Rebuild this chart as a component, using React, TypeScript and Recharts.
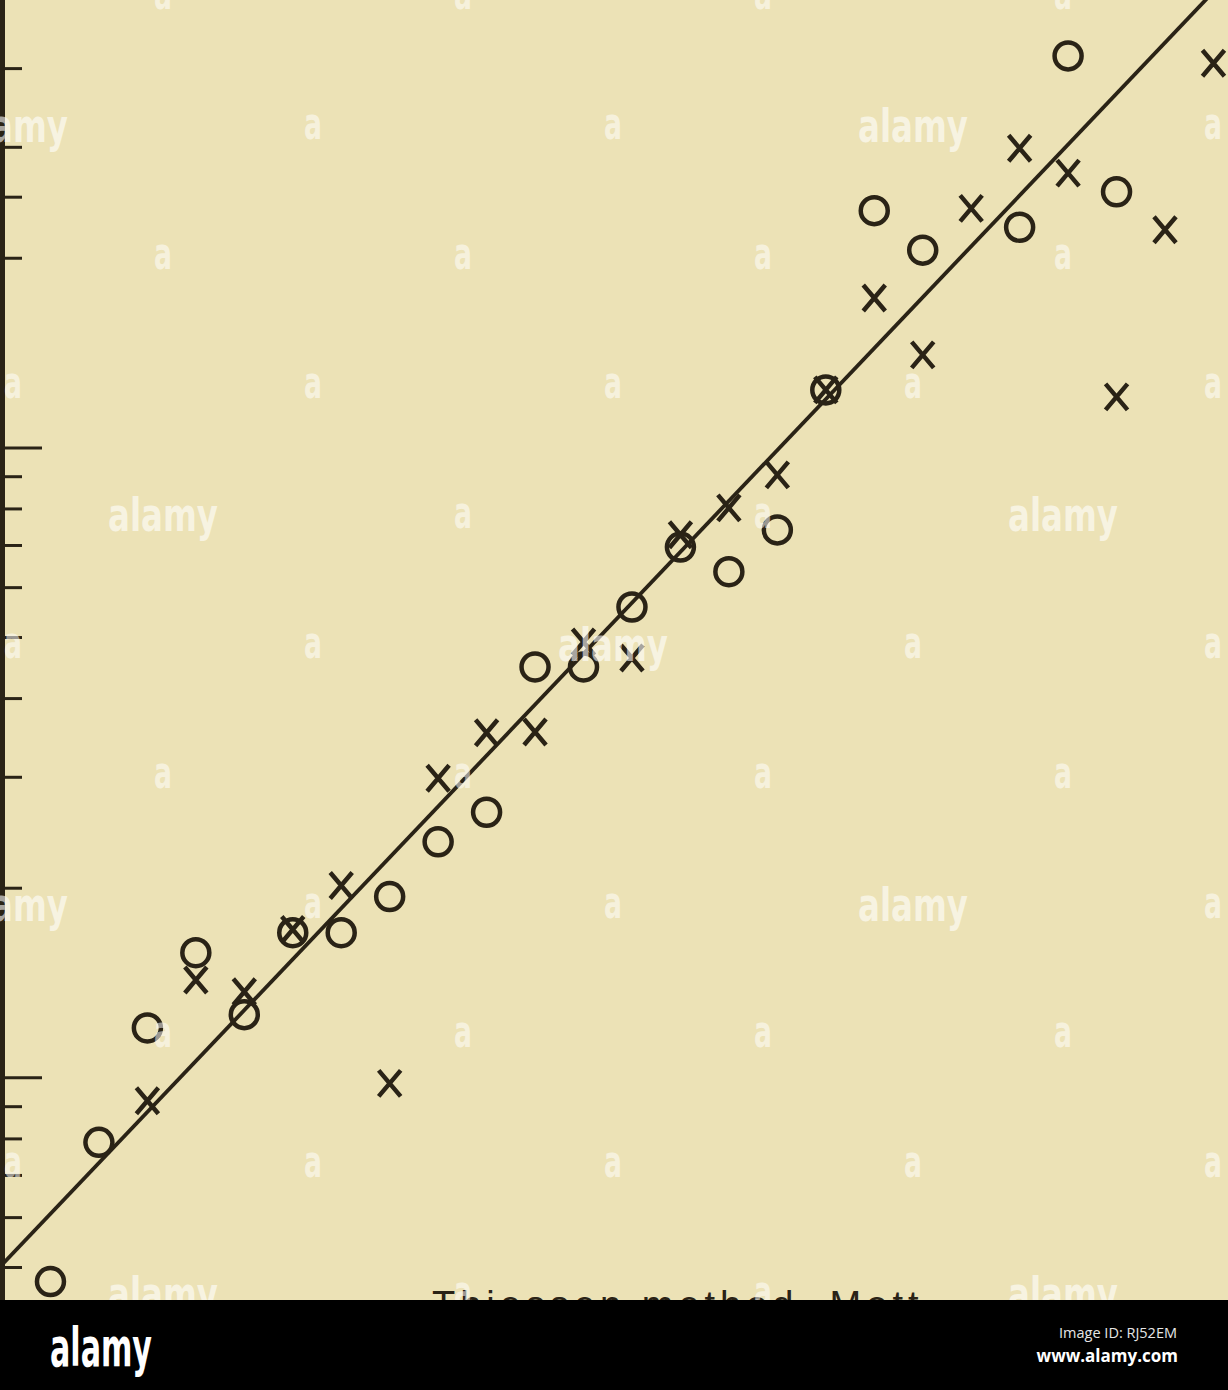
import React from "react";
import { ScatterChart, Scatter, XAxis, YAxis } from "recharts";

const INK = "#2a2316";
const PAPER = "#ECE2B6";

// x = station/column index, y = value on log scale
const circleX = [1, 2, 3, 4, 5, 6, 7, 8, 9, 10, 11, 12, 13, 14, 15, 16, 17, 18, 19, 21, 22, 23];
const circleY = [4.75, 7.9, 12.0, 15.8, 12.6, 17.0, 17.0, 19.4, 23.7, 26.4, 44.9, 44.9, 55.9, 69.6, 63.6, 74.1, 123.6, 238, 206, 224, 419, 255];

const crossX = [3, 4, 5, 6, 7, 8, 9, 10, 11, 12, 13, 14, 15, 16, 17, 18, 19, 20, 21, 22, 23, 24, 25];
const crossY = [9.2, 14.3, 13.7, 17.2, 20.2, 9.8, 29.9, 35.3, 35.4, 49.2, 46.4, 72.8, 80.3, 90.6, 123.6, 173, 140.5, 240, 299, 273, 120.5, 222, 408];

const lineX = [0, 24.9];
const lineY = [5.05, 520];

const yTicks = [5, 6, 7, 8, 9, 10, 20, 30, 40, 50, 60, 70, 80, 90, 100, 200, 250, 300, 400];
const majorTicks = [10, 100];

const circles = circleX.map((k, i) => ({ k, v: circleY[i] }));
const crosses = crossX.map((k, i) => ({ k, v: crossY[i] }));
const fitLine = lineX.map((k, i) => ({ k, v: lineY[i] }));

const AxisTick = (props: any) => {
  const { x, y, payload } = props;
  const len = majorTicks.includes(payload.value) ? 40 : 20;
  return <line x1={x} y1={y} x2={x + len} y2={y} stroke={INK} strokeWidth={3} />;
};

const CircleMark = (p: any) => (
  <circle cx={p.cx} cy={p.cy} r={13.5} fill="none" stroke={INK} strokeWidth={4.5} />
);

const CrossMark = (p: any) => (
  <path
    d={`M${p.cx - 11},${p.cy - 13} L${p.cx + 11},${p.cy + 13} M${p.cx + 11},${p.cy - 13} L${p.cx - 11},${p.cy + 13}`}
    stroke={INK}
    strokeWidth={4.5}
    fill="none"
  />
);

const NoMark = () => <g />;

const wordCells = [
  [0, 1], [6, 1], [1, 4], [7, 4], [4, 5], [0, 7], [6, 7], [1, 10], [7, 10],
];

function Watermarks() {
  const items: React.ReactNode[] = [];
  const wm = "'Liberation Sans Narrow', 'DejaVu Sans Condensed', 'Roboto', sans-serif";
  for (let j = 0; j <= 10; j++) {
    for (let i = 0; i <= 8; i++) {
      if ((i + j) % 2 === 0) continue;
      const cx = 13 + 150 * i;
      const cy = 129.8 * j - 2;
      const isWord = wordCells.some(([a, b]) => a === i && b === j);
      if (isWord) {
        items.push(
          <text key={`w${i}-${j}`} x={cx - 55} y={cy + 14} fontFamily={wm} fontWeight="bold" fontSize={46}
            textLength={110} lengthAdjust="spacingAndGlyphs" fill="#ffffff" fillOpacity={0.6}>alamy</text>
        );
      } else {
        items.push(
          <text key={`a${i}-${j}`} x={cx - 9} y={cy + 11} fontFamily={wm} fontWeight="bold" fontSize={44}
            textLength={18} lengthAdjust="spacingAndGlyphs" fill="#ffffff" fillOpacity={0.55}>a</text>
        );
      }
    }
  }
  return <g>{items}</g>;
}

export default function App() {
  return (
    <div style={{ position: "absolute", left: 0, top: 0, width: 1228, height: 1390, background: PAPER, overflow: "hidden" }}>
      <ScatterChart width={1228} height={1300} margin={{ top: 0, right: 0, bottom: 0, left: 0 }}>
        <XAxis type="number" dataKey="k" domain={[0, 25.3]} hide allowDataOverflow />
        <YAxis
          type="number"
          dataKey="v"
          scale="log"
          domain={[4.44, 514]}
          allowDataOverflow
          ticks={yTicks}
          interval={0}
          width={2}
          tickSize={0}
          tickMargin={0}
          tickLine={false}
          axisLine={{ stroke: INK, strokeWidth: 6 }}
          tick={<AxisTick />}
        />
        <Scatter data={fitLine} line={{ stroke: INK, strokeWidth: 3.8 }} shape={NoMark} isAnimationActive={false} />
        <Scatter data={circles} shape={CircleMark} isAnimationActive={false} />
        <Scatter data={crosses} shape={CrossMark} isAnimationActive={false} />
      </ScatterChart>
      <svg width={1228} height={1390} style={{ position: "absolute", left: 0, top: 0, pointerEvents: "none" }}>
        <text x={432} y={1318} fontFamily="'Liberation Sans', Arial, sans-serif" fontSize={38} letterSpacing={5} fill={INK}>
          Thiessen method, Mott
        </text>
        <Watermarks />
        <rect x={0} y={1300} width={1228} height={90} fill="#000" />
        <text x={50} y={1366} fontFamily="'Liberation Sans Narrow', 'DejaVu Sans Condensed', sans-serif" fontWeight="bold"
          fontSize={54} textLength={102} lengthAdjust="spacingAndGlyphs" fill="#fff">alamy</text>
        <text x={1177} y={1338} textAnchor="end" fontFamily="'Open Sans', 'Noto Sans', sans-serif" fontSize={14.5} fill="#e6e6e6">
          Image ID: RJ52EM
        </text>
        <text x={1178} y={1362} textAnchor="end" fontFamily="'Open Sans', 'Noto Sans', sans-serif" fontWeight="bold" fontSize={17} fill="#fff">
          www.alamy.com
        </text>
      </svg>
    </div>
  );
}
